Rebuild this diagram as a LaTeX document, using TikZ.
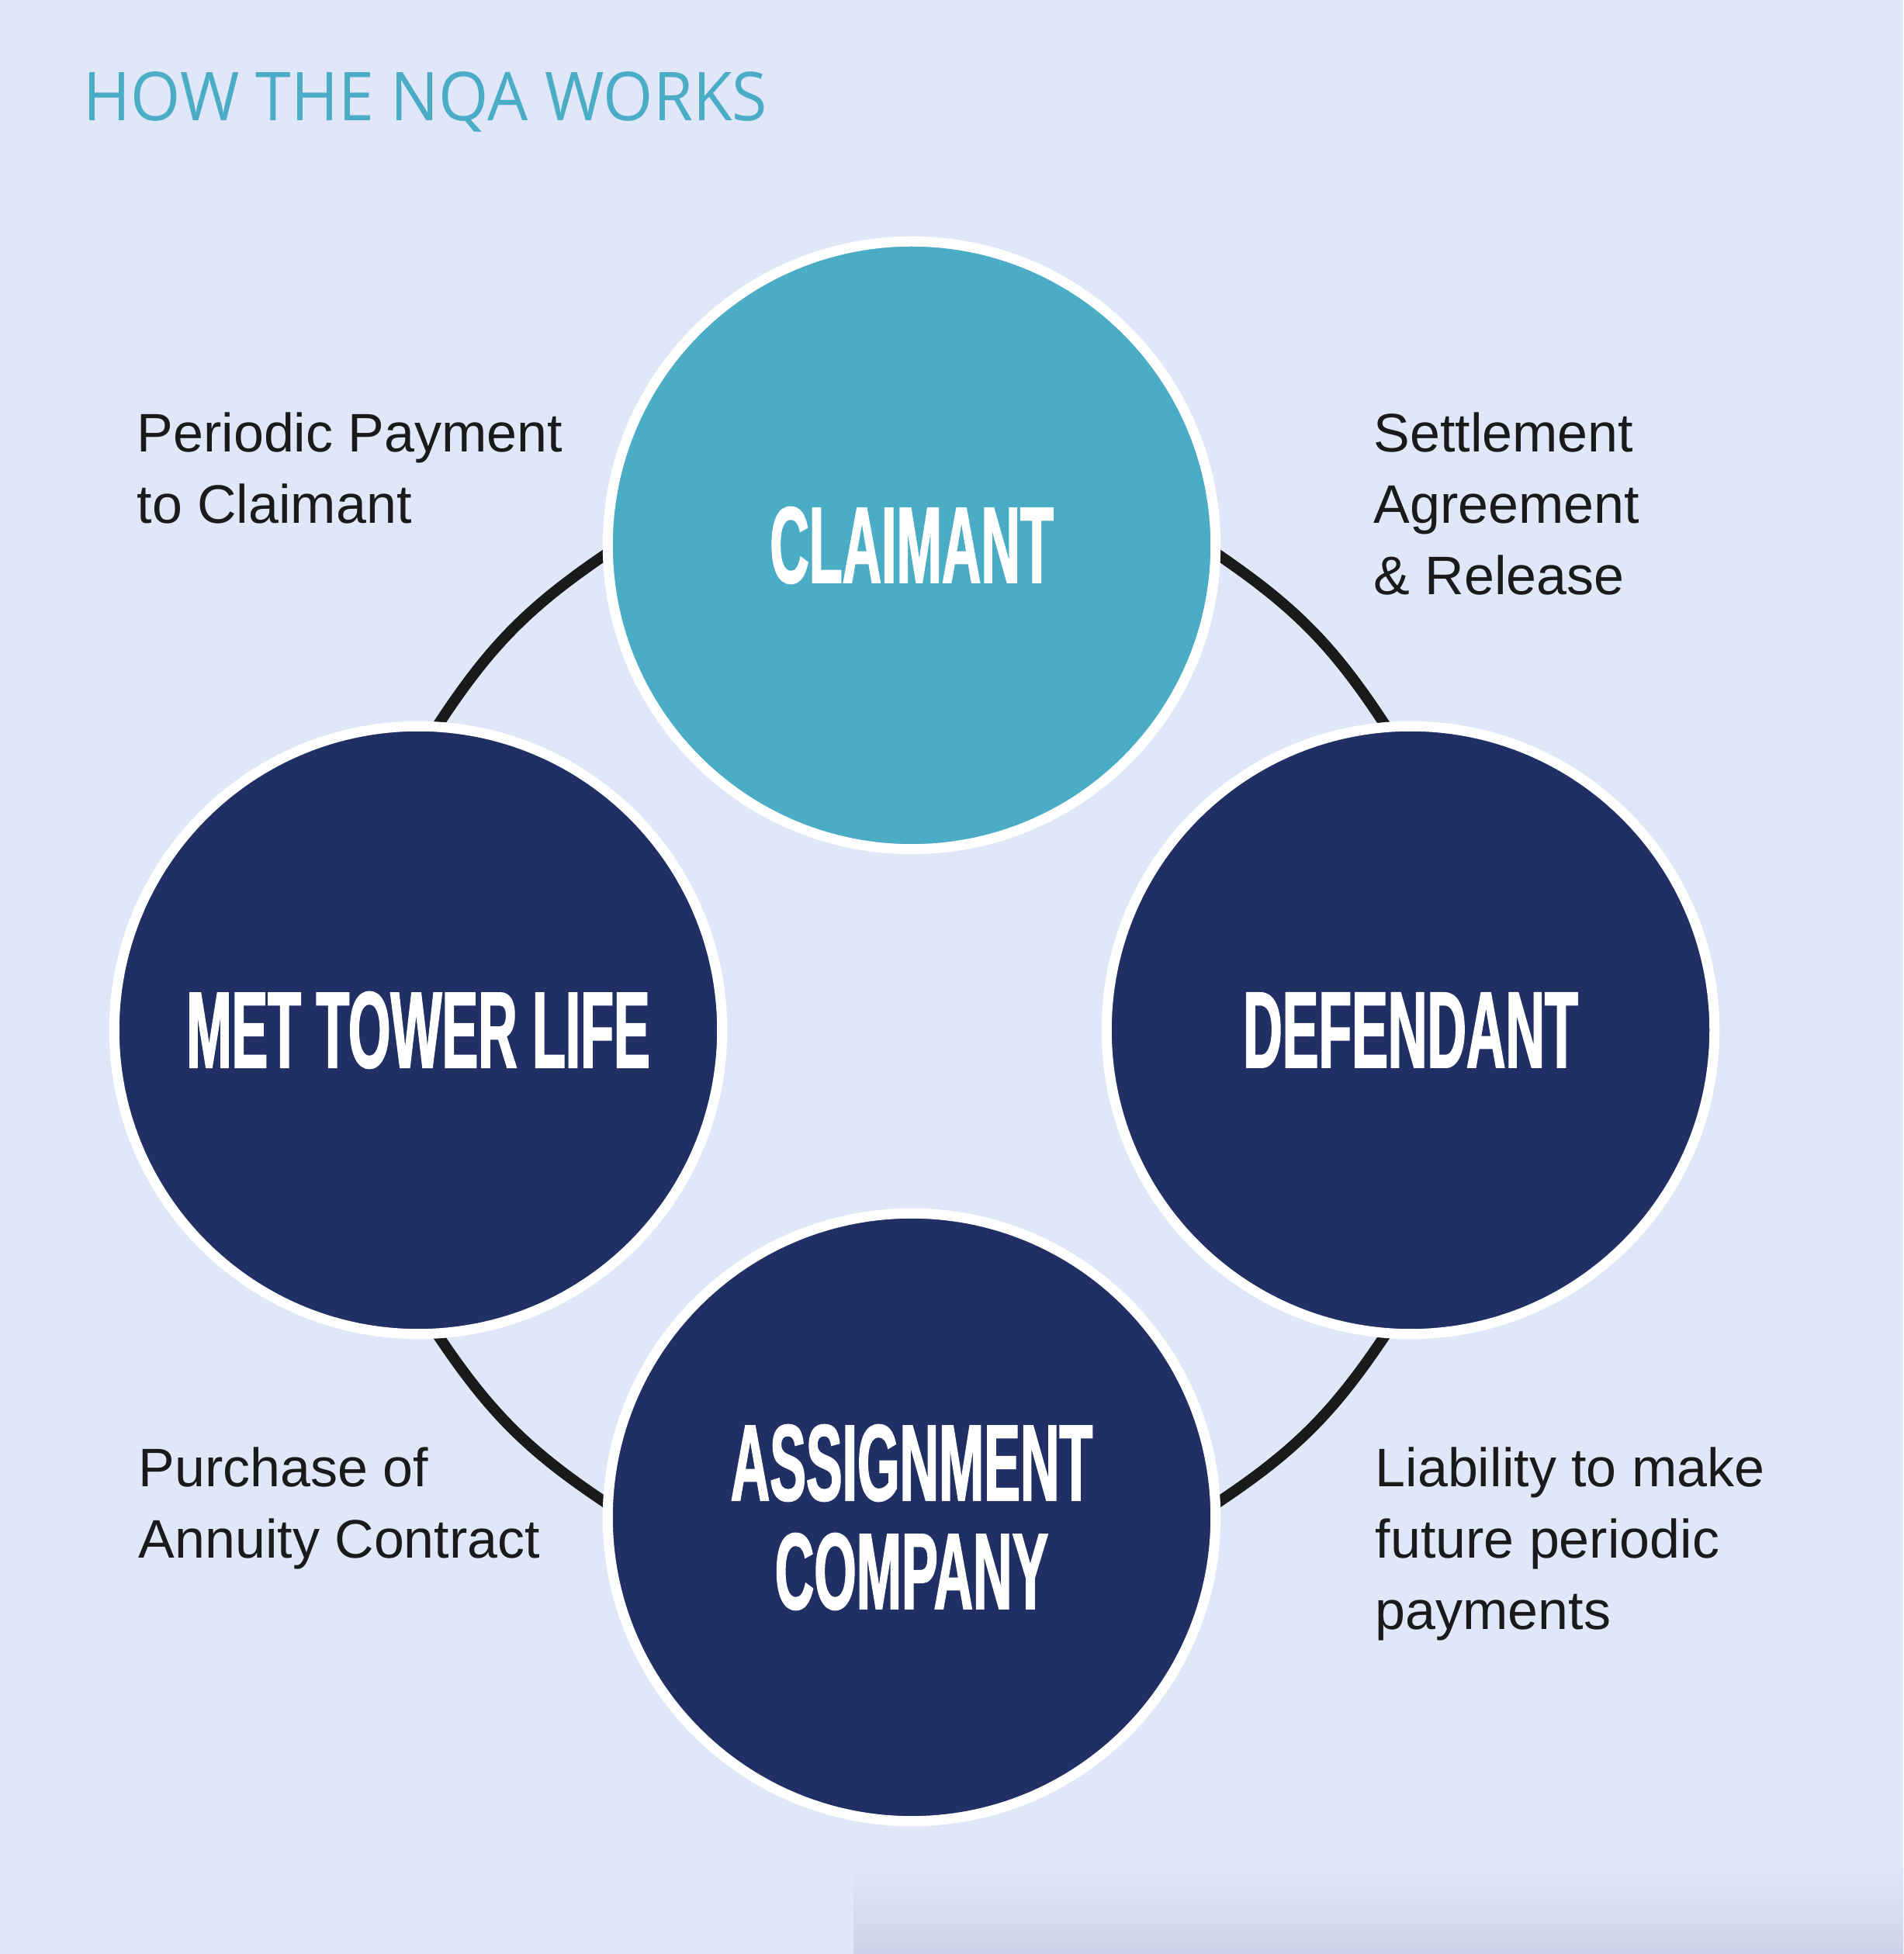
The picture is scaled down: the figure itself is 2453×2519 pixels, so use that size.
\documentclass[tikz,border=0pt]{standalone}
\usepackage{fontspec}
\setmainfont{Liberation Sans}
\newfontfamily\titlefont[FakeStretch=0.95]{Open Sans}
\newfontfamily\circfont[FakeStretch=0.5,FakeBold=1.2]{Liberation Sans Bold}
\usetikzlibrary{backgrounds}
\definecolor{pagebg}{HTML}{E0E7F8}
\definecolor{aqua}{HTML}{4BACC6}
\definecolor{navy}{HTML}{213064}
\definecolor{ink}{HTML}{1A1A1A}

\begin{document}
\begin{tikzpicture}[x=0.01cm, y=0.01cm,
    party/.style={circle, draw=white, line width=0.13cm, minimum size=7.83cm,
        inner sep=0pt, text=white, align=center,
        font=\circfont\fontsize{39.8}{39.8}\selectfont},
    ring/.style={line width=0.14cm, ink, shorten <=-0.3cm, shorten >=-0.3cm},
    note/.style={anchor=base west, align=left, inner sep=0pt, text=ink,
        font=\fontsize{19.9}{26.2}\selectfont}]
    \useasboundingbox (0,0) rectangle (2453,2519);
    \node[anchor=base west, inner sep=0pt, text=aqua,
        font=\titlefont\fontsize{24.7}{30}\selectfont] (title) at (107,2363) {HOW THE NQA WORKS};
    \node[party, fill=aqua] (claimant) at (1175,1816) {CLAIMANT};
    \node[party, fill=navy] (mettower) at (539,1191) {MET TOWER LIFE};
    \node[party, fill=navy] (defendant) at (1818,1191) {DEFENDANT};
    \node[party, fill=navy] (assignment) at (1175,563) {ASSIGNMENT\\COMPANY};
    % base anchor sits on the last line
    \node[note] (paynote) at (176,1844) {Periodic Payment\\to Claimant};
    \node[note] (settlenote) at (1770,1752) {Settlement\\Agreement\\\& Release};
    \node[note] (buynote) at (178,510) {Purchase of\\Annuity Contract};
    \node[note] (liabnote) at (1772,418) {Liability to make\\future periodic\\payments};
    \begin{scope}[on background layer]
        \fill[pagebg] (0,0) rectangle (2453,2519);
        \shade[top color=pagebg, bottom color={rgb,255:red,206;green,210;blue,232}]
            (1100,0) rectangle (2453,110);
        \draw (claimant.182) edge[ring, bend right=12] (mettower.86);
        \draw (claimant.358) edge[ring, bend left=12] (defendant.95);
        \draw (mettower.274) edge[ring, bend right=12] (assignment.177);
        \draw (defendant.265) edge[ring, bend left=12] (assignment.3);
    \end{scope}
\end{tikzpicture}
\end{document}
